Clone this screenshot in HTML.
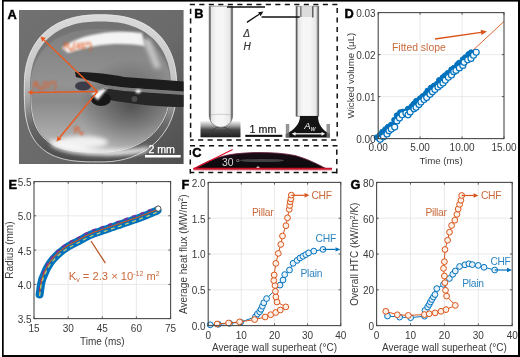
<!DOCTYPE html><html><head><meta charset="utf-8"><style>html,body{margin:0;padding:0;background:#fff;width:520px;height:357px;overflow:hidden}svg{display:block}text{font-family:'Liberation Sans',Arial,sans-serif}</style></head><body>
<svg width="520" height="357" viewBox="0 0 520 357">
<defs><filter id="b1" x="-20%" y="-20%" width="140%" height="140%"><feGaussianBlur stdDeviation="1"/></filter><filter id="b2" x="-30%" y="-30%" width="160%" height="160%"><feGaussianBlur stdDeviation="2"/></filter><filter id="b4" x="-50%" y="-50%" width="200%" height="200%"><feGaussianBlur stdDeviation="4"/></filter><filter id="b06"><feGaussianBlur stdDeviation="0.6"/></filter></defs>
<rect width="520" height="357" fill="#fff"/>
<clipPath id="cpa"><rect x="19" y="10" width="164.6" height="154"/></clipPath>
<linearGradient id="abg" x1="0" y1="0" x2="1" y2="1"><stop offset="0" stop-color="#717171"/><stop offset="0.55" stop-color="#6a6a6a"/><stop offset="1" stop-color="#4e4e4e"/></linearGradient>
<linearGradient id="arim" x1="0" y1="0" x2="0" y2="1"><stop offset="0" stop-color="#dadada"/><stop offset="0.42" stop-color="#c6c6c6"/><stop offset="0.6" stop-color="#9c9c9c"/><stop offset="0.75" stop-color="#686868"/><stop offset="1" stop-color="#4a4a4a"/></linearGradient><linearGradient id="aband" x1="0" y1="0" x2="0" y2="1"><stop offset="0" stop-color="#727272"/><stop offset="0.4" stop-color="#7c7c7c"/><stop offset="0.75" stop-color="#626262"/><stop offset="1" stop-color="#585858"/></linearGradient>
<linearGradient id="ain" x1="0" y1="0" x2="0" y2="1"><stop offset="0" stop-color="#7e7e7e"/><stop offset="0.25" stop-color="#8a8a8a"/><stop offset="0.45" stop-color="#939393"/><stop offset="0.58" stop-color="#888"/><stop offset="0.8" stop-color="#a4a4a4"/><stop offset="1" stop-color="#bcbcbc"/></linearGradient>
<linearGradient id="aline" x1="0" y1="0" x2="0" y2="1"><stop offset="0" stop-color="#e0e0e0" stop-opacity="0"/><stop offset="0.4" stop-color="#e0e0e0" stop-opacity="0.2"/><stop offset="0.7" stop-color="#e0e0e0" stop-opacity="0.9"/><stop offset="1" stop-color="#e0e0e0" stop-opacity="0.9"/></linearGradient>
<radialGradient id="ashade" cx="0.72" cy="0.62" r="0.38"><stop offset="0" stop-color="#3a3a3a" stop-opacity="0.7"/><stop offset="1" stop-color="#3a3a3a" stop-opacity="0"/></radialGradient>
<g clip-path="url(#cpa)">
<rect x="19" y="10" width="165" height="154" fill="url(#abg)"/>
<path d="M 177.0 88.0 L 176.9 91.9 L 176.8 95.3 L 176.5 98.6 L 176.1 101.7 L 175.7 104.8 L 175.1 107.8 L 174.4 110.7 L 173.6 113.5 L 172.7 116.3 L 171.7 119.0 L 170.6 121.6 L 169.4 124.2 L 168.1 126.7 L 166.7 129.1 L 165.2 131.5 L 163.6 133.8 L 161.9 136.0 L 160.1 138.1 L 158.3 140.2 L 156.3 142.2 L 154.3 144.1 L 152.2 145.9 L 150.0 147.6 L 147.7 149.2 L 145.3 150.8 L 142.9 152.2 L 140.4 153.6 L 137.8 154.8 L 135.2 156.0 L 132.4 157.1 L 129.7 158.1 L 126.8 158.9 L 123.9 159.7 L 120.9 160.4 L 117.8 160.9 L 114.7 161.4 L 111.4 161.8 L 108.1 162.0 L 104.5 162.2 L 100.5 162.2 L 91.7 162.2 L 86.5 162.1 L 82.1 161.9 L 78.3 161.6 L 74.8 161.3 L 71.5 160.9 L 68.4 160.4 L 65.5 159.8 L 62.8 159.1 L 60.2 158.4 L 57.7 157.6 L 55.3 156.7 L 53.0 155.8 L 50.9 154.8 L 48.8 153.6 L 46.8 152.5 L 44.9 151.2 L 43.1 149.8 L 41.4 148.4 L 39.8 146.9 L 38.2 145.3 L 36.8 143.7 L 35.4 141.9 L 34.1 140.1 L 32.9 138.2 L 31.7 136.2 L 30.6 134.1 L 29.7 131.9 L 28.8 129.5 L 27.9 127.1 L 27.2 124.6 L 26.5 121.9 L 25.9 119.1 L 25.4 116.1 L 25.0 113.0 L 24.6 109.6 L 24.4 105.8 L 24.2 101.6 L 24.0 96.6 L 24.0 88.0 L 24.1 83.3 L 24.2 79.6 L 24.5 76.1 L 24.8 72.8 L 25.3 69.7 L 25.8 66.7 L 26.5 63.8 L 27.2 60.9 L 28.0 58.2 L 29.0 55.5 L 30.0 53.0 L 31.2 50.5 L 32.4 48.0 L 33.7 45.7 L 35.1 43.4 L 36.6 41.2 L 38.2 39.1 L 39.9 37.1 L 41.7 35.1 L 43.5 33.3 L 45.5 31.5 L 47.5 29.8 L 49.6 28.2 L 51.8 26.6 L 54.1 25.2 L 56.5 23.8 L 58.9 22.6 L 61.4 21.4 L 64.0 20.3 L 66.7 19.3 L 69.5 18.4 L 72.3 17.6 L 75.3 16.9 L 78.3 16.2 L 81.5 15.7 L 84.7 15.3 L 88.1 14.9 L 91.7 14.7 L 95.6 14.5 L 100.5 14.5 L 105.4 14.5 L 109.3 14.7 L 112.9 14.9 L 116.3 15.3 L 119.5 15.7 L 122.7 16.2 L 125.7 16.9 L 128.7 17.6 L 131.5 18.4 L 134.3 19.3 L 137.0 20.3 L 139.6 21.4 L 142.1 22.6 L 144.5 23.8 L 146.9 25.2 L 149.2 26.6 L 151.4 28.2 L 153.5 29.8 L 155.5 31.5 L 157.5 33.3 L 159.3 35.1 L 161.1 37.1 L 162.8 39.1 L 164.4 41.2 L 165.9 43.4 L 167.3 45.7 L 168.6 48.0 L 169.8 50.5 L 171.0 53.0 L 172.0 55.5 L 173.0 58.2 L 173.8 60.9 L 174.5 63.8 L 175.2 66.7 L 175.7 69.7 L 176.2 72.8 L 176.5 76.1 L 176.8 79.6 L 176.9 83.3 Z" fill="url(#arim)"/>
<path d="M 171.0 88.5 L 171.0 92.1 L 170.8 95.2 L 170.6 98.2 L 170.2 101.0 L 169.8 103.8 L 169.2 106.5 L 168.6 109.2 L 167.9 111.8 L 167.0 114.3 L 166.1 116.8 L 165.1 119.2 L 164.0 121.5 L 162.8 123.8 L 161.5 126.0 L 160.1 128.2 L 158.6 130.2 L 157.1 132.3 L 155.5 134.2 L 153.7 136.1 L 151.9 137.9 L 150.1 139.6 L 148.1 141.3 L 146.1 142.8 L 144.0 144.3 L 141.8 145.7 L 139.6 147.0 L 137.3 148.3 L 134.9 149.4 L 132.4 150.5 L 129.9 151.5 L 127.4 152.4 L 124.7 153.2 L 122.0 153.9 L 119.3 154.5 L 116.5 155.0 L 113.6 155.4 L 110.6 155.7 L 107.5 156.0 L 104.2 156.1 L 100.5 156.2 L 92.4 156.1 L 87.6 156.0 L 83.6 155.9 L 80.0 155.6 L 76.8 155.3 L 73.8 154.9 L 70.9 154.5 L 68.3 153.9 L 65.7 153.4 L 63.3 152.7 L 61.0 152.0 L 58.9 151.2 L 56.8 150.3 L 54.8 149.3 L 52.9 148.3 L 51.0 147.3 L 49.3 146.1 L 47.6 144.9 L 46.0 143.6 L 44.5 142.2 L 43.1 140.8 L 41.8 139.2 L 40.5 137.7 L 39.3 136.0 L 38.2 134.2 L 37.1 132.4 L 36.1 130.5 L 35.2 128.5 L 34.4 126.4 L 33.6 124.2 L 32.9 121.9 L 32.3 119.4 L 31.8 116.9 L 31.3 114.2 L 30.9 111.3 L 30.6 108.1 L 30.3 104.7 L 30.1 100.9 L 30.0 96.3 L 30.0 88.5 L 30.0 84.2 L 30.2 80.8 L 30.4 77.7 L 30.7 74.7 L 31.2 71.8 L 31.7 69.1 L 32.3 66.4 L 32.9 63.8 L 33.7 61.3 L 34.6 58.9 L 35.6 56.6 L 36.6 54.3 L 37.7 52.1 L 38.9 49.9 L 40.2 47.9 L 41.6 45.9 L 43.1 44.0 L 44.7 42.1 L 46.3 40.3 L 48.0 38.6 L 49.8 37.0 L 51.7 35.4 L 53.6 34.0 L 55.6 32.6 L 57.7 31.2 L 59.9 30.0 L 62.2 28.8 L 64.5 27.8 L 66.9 26.8 L 69.4 25.9 L 71.9 25.0 L 74.6 24.3 L 77.3 23.6 L 80.1 23.1 L 83.0 22.6 L 86.0 22.2 L 89.1 21.9 L 92.4 21.7 L 96.0 21.5 L 100.5 21.5 L 105.0 21.5 L 108.6 21.7 L 111.9 21.9 L 115.0 22.2 L 118.0 22.6 L 120.9 23.1 L 123.7 23.6 L 126.4 24.3 L 129.1 25.0 L 131.6 25.9 L 134.1 26.8 L 136.5 27.8 L 138.8 28.8 L 141.1 30.0 L 143.3 31.2 L 145.4 32.6 L 147.4 34.0 L 149.3 35.4 L 151.2 37.0 L 153.0 38.6 L 154.7 40.3 L 156.3 42.1 L 157.9 44.0 L 159.4 45.9 L 160.8 47.9 L 162.1 49.9 L 163.3 52.1 L 164.4 54.3 L 165.4 56.6 L 166.4 58.9 L 167.3 61.3 L 168.1 63.8 L 168.7 66.4 L 169.3 69.1 L 169.8 71.8 L 170.3 74.7 L 170.6 77.7 L 170.8 80.8 L 171.0 84.2 Z" fill="url(#aband)"/>
<path d="M 169.5 90.0 L 169.5 93.2 L 169.3 96.1 L 169.1 98.8 L 168.7 101.4 L 168.3 103.9 L 167.8 106.4 L 167.1 108.8 L 166.4 111.2 L 165.6 113.5 L 164.7 115.7 L 163.7 117.9 L 162.6 120.1 L 161.5 122.1 L 160.2 124.1 L 158.8 126.1 L 157.4 128.0 L 155.9 129.8 L 154.3 131.6 L 152.6 133.3 L 150.9 135.0 L 149.0 136.5 L 147.1 138.0 L 145.1 139.5 L 143.1 140.8 L 140.9 142.1 L 138.7 143.3 L 136.5 144.4 L 134.2 145.5 L 131.8 146.4 L 129.3 147.3 L 126.8 148.1 L 124.2 148.9 L 121.6 149.5 L 118.9 150.1 L 116.1 150.5 L 113.3 150.9 L 110.4 151.2 L 107.3 151.4 L 104.1 151.6 L 100.5 151.6 L 92.5 151.6 L 87.9 151.5 L 83.9 151.3 L 80.5 151.1 L 77.3 150.8 L 74.3 150.5 L 71.6 150.1 L 69.0 149.6 L 66.5 149.0 L 64.1 148.4 L 61.9 147.8 L 59.7 147.0 L 57.7 146.3 L 55.7 145.4 L 53.9 144.5 L 52.1 143.5 L 50.4 142.4 L 48.8 141.3 L 47.2 140.1 L 45.7 138.9 L 44.3 137.6 L 43.0 136.2 L 41.8 134.8 L 40.6 133.2 L 39.5 131.6 L 38.5 130.0 L 37.5 128.2 L 36.6 126.4 L 35.8 124.5 L 35.0 122.5 L 34.4 120.4 L 33.8 118.2 L 33.2 115.8 L 32.8 113.4 L 32.4 110.7 L 32.1 107.9 L 31.8 104.8 L 31.6 101.3 L 31.5 97.1 L 31.5 90.0 L 31.5 86.1 L 31.7 83.0 L 31.9 80.1 L 32.2 77.4 L 32.6 74.8 L 33.1 72.3 L 33.7 69.9 L 34.4 67.5 L 35.1 65.3 L 36.0 63.1 L 36.9 60.9 L 38.0 58.9 L 39.1 56.8 L 40.3 54.9 L 41.5 53.0 L 42.9 51.2 L 44.3 49.4 L 45.8 47.8 L 47.4 46.1 L 49.1 44.6 L 50.9 43.1 L 52.7 41.7 L 54.6 40.3 L 56.6 39.1 L 58.7 37.9 L 60.8 36.7 L 63.0 35.7 L 65.3 34.7 L 67.6 33.8 L 70.0 33.0 L 72.5 32.2 L 75.1 31.6 L 77.8 31.0 L 80.5 30.4 L 83.3 30.0 L 86.3 29.6 L 89.3 29.4 L 92.6 29.2 L 96.1 29.0 L 100.5 29.0 L 104.9 29.0 L 108.4 29.2 L 111.7 29.4 L 114.7 29.6 L 117.7 30.0 L 120.5 30.4 L 123.2 31.0 L 125.9 31.6 L 128.5 32.2 L 131.0 33.0 L 133.4 33.8 L 135.7 34.7 L 138.0 35.7 L 140.2 36.7 L 142.3 37.9 L 144.4 39.1 L 146.4 40.3 L 148.3 41.7 L 150.1 43.1 L 151.9 44.6 L 153.6 46.1 L 155.2 47.8 L 156.7 49.4 L 158.1 51.2 L 159.5 53.0 L 160.7 54.9 L 161.9 56.8 L 163.0 58.9 L 164.1 60.9 L 165.0 63.1 L 165.9 65.3 L 166.6 67.5 L 167.3 69.9 L 167.9 72.3 L 168.4 74.8 L 168.8 77.4 L 169.1 80.1 L 169.3 83.0 L 169.5 86.1 Z" fill="url(#ain)"/>
<path d="M 169.5 90.0 L 169.5 93.2 L 169.3 96.1 L 169.1 98.8 L 168.7 101.4 L 168.3 103.9 L 167.8 106.4 L 167.1 108.8 L 166.4 111.2 L 165.6 113.5 L 164.7 115.7 L 163.7 117.9 L 162.6 120.1 L 161.5 122.1 L 160.2 124.1 L 158.8 126.1 L 157.4 128.0 L 155.9 129.8 L 154.3 131.6 L 152.6 133.3 L 150.9 135.0 L 149.0 136.5 L 147.1 138.0 L 145.1 139.5 L 143.1 140.8 L 140.9 142.1 L 138.7 143.3 L 136.5 144.4 L 134.2 145.5 L 131.8 146.4 L 129.3 147.3 L 126.8 148.1 L 124.2 148.9 L 121.6 149.5 L 118.9 150.1 L 116.1 150.5 L 113.3 150.9 L 110.4 151.2 L 107.3 151.4 L 104.1 151.6 L 100.5 151.6 L 92.5 151.6 L 87.9 151.5 L 83.9 151.3 L 80.5 151.1 L 77.3 150.8 L 74.3 150.5 L 71.6 150.1 L 69.0 149.6 L 66.5 149.0 L 64.1 148.4 L 61.9 147.8 L 59.7 147.0 L 57.7 146.3 L 55.7 145.4 L 53.9 144.5 L 52.1 143.5 L 50.4 142.4 L 48.8 141.3 L 47.2 140.1 L 45.7 138.9 L 44.3 137.6 L 43.0 136.2 L 41.8 134.8 L 40.6 133.2 L 39.5 131.6 L 38.5 130.0 L 37.5 128.2 L 36.6 126.4 L 35.8 124.5 L 35.0 122.5 L 34.4 120.4 L 33.8 118.2 L 33.2 115.8 L 32.8 113.4 L 32.4 110.7 L 32.1 107.9 L 31.8 104.8 L 31.6 101.3 L 31.5 97.1 L 31.5 90.0 L 31.5 86.1 L 31.7 83.0 L 31.9 80.1 L 32.2 77.4 L 32.6 74.8 L 33.1 72.3 L 33.7 69.9 L 34.4 67.5 L 35.1 65.3 L 36.0 63.1 L 36.9 60.9 L 38.0 58.9 L 39.1 56.8 L 40.3 54.9 L 41.5 53.0 L 42.9 51.2 L 44.3 49.4 L 45.8 47.8 L 47.4 46.1 L 49.1 44.6 L 50.9 43.1 L 52.7 41.7 L 54.6 40.3 L 56.6 39.1 L 58.7 37.9 L 60.8 36.7 L 63.0 35.7 L 65.3 34.7 L 67.6 33.8 L 70.0 33.0 L 72.5 32.2 L 75.1 31.6 L 77.8 31.0 L 80.5 30.4 L 83.3 30.0 L 86.3 29.6 L 89.3 29.4 L 92.6 29.2 L 96.1 29.0 L 100.5 29.0 L 104.9 29.0 L 108.4 29.2 L 111.7 29.4 L 114.7 29.6 L 117.7 30.0 L 120.5 30.4 L 123.2 31.0 L 125.9 31.6 L 128.5 32.2 L 131.0 33.0 L 133.4 33.8 L 135.7 34.7 L 138.0 35.7 L 140.2 36.7 L 142.3 37.9 L 144.4 39.1 L 146.4 40.3 L 148.3 41.7 L 150.1 43.1 L 151.9 44.6 L 153.6 46.1 L 155.2 47.8 L 156.7 49.4 L 158.1 51.2 L 159.5 53.0 L 160.7 54.9 L 161.9 56.8 L 163.0 58.9 L 164.1 60.9 L 165.0 63.1 L 165.9 65.3 L 166.6 67.5 L 167.3 69.9 L 167.9 72.3 L 168.4 74.8 L 168.8 77.4 L 169.1 80.1 L 169.3 83.0 L 169.5 86.1 Z" fill="url(#ashade)"/>
<path d="M 170.0 90.0 L 170.0 93.3 L 169.8 96.1 L 169.6 98.9 L 169.2 101.5 L 168.8 104.1 L 168.3 106.6 L 167.6 109.0 L 166.9 111.4 L 166.1 113.7 L 165.2 115.9 L 164.2 118.1 L 163.1 120.3 L 161.9 122.4 L 160.6 124.4 L 159.3 126.4 L 157.8 128.3 L 156.3 130.2 L 154.7 132.0 L 153.0 133.7 L 151.2 135.3 L 149.4 136.9 L 147.4 138.4 L 145.4 139.9 L 143.4 141.2 L 141.2 142.5 L 139.0 143.7 L 136.7 144.9 L 134.4 145.9 L 132.0 146.9 L 129.5 147.8 L 127.0 148.6 L 124.4 149.3 L 121.7 150.0 L 119.0 150.6 L 116.2 151.0 L 113.4 151.4 L 110.4 151.7 L 107.4 151.9 L 104.2 152.1 L 100.5 152.1 L 92.5 152.1 L 87.8 152.0 L 83.8 151.8 L 80.3 151.6 L 77.1 151.3 L 74.2 151.0 L 71.4 150.6 L 68.7 150.1 L 66.2 149.5 L 63.9 148.9 L 61.6 148.3 L 59.4 147.5 L 57.4 146.7 L 55.4 145.9 L 53.5 144.9 L 51.7 143.9 L 50.0 142.9 L 48.4 141.7 L 46.8 140.6 L 45.3 139.3 L 43.9 138.0 L 42.6 136.6 L 41.3 135.1 L 40.2 133.6 L 39.0 132.0 L 38.0 130.3 L 37.0 128.5 L 36.1 126.7 L 35.3 124.8 L 34.6 122.7 L 33.9 120.6 L 33.3 118.4 L 32.8 116.0 L 32.3 113.5 L 31.9 110.9 L 31.6 108.0 L 31.3 104.9 L 31.1 101.4 L 31.0 97.2 L 31.0 90.0 L 31.0 86.1 L 31.2 83.0 L 31.4 80.1 L 31.7 77.3 L 32.1 74.7 L 32.6 72.2 L 33.2 69.7 L 33.9 67.4 L 34.7 65.1 L 35.5 62.8 L 36.5 60.7 L 37.5 58.6 L 38.6 56.6 L 39.8 54.6 L 41.1 52.7 L 42.5 50.9 L 43.9 49.1 L 45.5 47.4 L 47.1 45.8 L 48.8 44.2 L 50.5 42.7 L 52.4 41.3 L 54.3 39.9 L 56.3 38.6 L 58.4 37.4 L 60.5 36.3 L 62.7 35.2 L 65.0 34.3 L 67.4 33.3 L 69.8 32.5 L 72.3 31.8 L 74.9 31.1 L 77.6 30.5 L 80.4 29.9 L 83.2 29.5 L 86.2 29.1 L 89.3 28.9 L 92.5 28.7 L 96.1 28.5 L 100.5 28.5 L 104.9 28.5 L 108.5 28.7 L 111.7 28.9 L 114.8 29.1 L 117.8 29.5 L 120.6 29.9 L 123.4 30.5 L 126.1 31.1 L 128.7 31.8 L 131.2 32.5 L 133.6 33.3 L 136.0 34.3 L 138.3 35.2 L 140.5 36.3 L 142.6 37.4 L 144.7 38.6 L 146.7 39.9 L 148.6 41.3 L 150.5 42.7 L 152.2 44.2 L 153.9 45.8 L 155.5 47.4 L 157.1 49.1 L 158.5 50.9 L 159.9 52.7 L 161.2 54.6 L 162.4 56.6 L 163.5 58.6 L 164.5 60.7 L 165.5 62.8 L 166.3 65.1 L 167.1 67.4 L 167.8 69.7 L 168.4 72.2 L 168.9 74.7 L 169.3 77.3 L 169.6 80.1 L 169.8 83.0 L 170.0 86.1 Z" fill="none" stroke="url(#aline)" stroke-width="1"/>
<path d="M 176.7 88.0 L 176.6 91.9 L 176.5 95.3 L 176.2 98.6 L 175.8 101.7 L 175.4 104.7 L 174.8 107.7 L 174.1 110.6 L 173.3 113.4 L 172.4 116.2 L 171.4 118.9 L 170.3 121.5 L 169.1 124.1 L 167.8 126.6 L 166.4 129.0 L 164.9 131.3 L 163.3 133.6 L 161.7 135.8 L 159.9 137.9 L 158.0 140.0 L 156.1 142.0 L 154.1 143.8 L 152.0 145.6 L 149.8 147.3 L 147.5 149.0 L 145.2 150.5 L 142.7 152.0 L 140.2 153.3 L 137.7 154.6 L 135.0 155.7 L 132.3 156.8 L 129.5 157.8 L 126.7 158.6 L 123.8 159.4 L 120.8 160.1 L 117.7 160.6 L 114.6 161.1 L 111.4 161.5 L 108.0 161.7 L 104.5 161.9 L 100.5 161.9 L 91.7 161.9 L 86.5 161.8 L 82.2 161.6 L 78.4 161.3 L 74.9 161.0 L 71.6 160.6 L 68.6 160.1 L 65.7 159.5 L 62.9 158.9 L 60.3 158.1 L 57.9 157.3 L 55.5 156.5 L 53.2 155.5 L 51.1 154.5 L 49.0 153.4 L 47.0 152.2 L 45.1 150.9 L 43.4 149.6 L 41.6 148.2 L 40.0 146.7 L 38.5 145.1 L 37.0 143.4 L 35.6 141.7 L 34.3 139.9 L 33.1 138.0 L 32.0 136.0 L 30.9 133.9 L 29.9 131.7 L 29.0 129.4 L 28.2 127.0 L 27.5 124.4 L 26.8 121.8 L 26.2 119.0 L 25.7 116.0 L 25.3 112.9 L 24.9 109.5 L 24.7 105.7 L 24.5 101.5 L 24.3 96.5 L 24.3 88.0 L 24.4 83.3 L 24.5 79.6 L 24.7 76.2 L 25.1 72.9 L 25.5 69.8 L 26.1 66.8 L 26.7 63.9 L 27.5 61.1 L 28.3 58.3 L 29.3 55.7 L 30.3 53.1 L 31.4 50.6 L 32.7 48.2 L 34.0 45.9 L 35.4 43.6 L 36.9 41.4 L 38.5 39.3 L 40.1 37.3 L 41.9 35.4 L 43.8 33.5 L 45.7 31.7 L 47.7 30.0 L 49.8 28.4 L 52.0 26.9 L 54.3 25.4 L 56.6 24.1 L 59.1 22.8 L 61.6 21.6 L 64.2 20.6 L 66.9 19.6 L 69.6 18.7 L 72.5 17.9 L 75.4 17.1 L 78.4 16.5 L 81.5 16.0 L 84.8 15.6 L 88.2 15.2 L 91.8 15.0 L 95.7 14.8 L 100.5 14.8 L 105.3 14.8 L 109.2 15.0 L 112.8 15.2 L 116.2 15.6 L 119.5 16.0 L 122.6 16.5 L 125.6 17.1 L 128.5 17.9 L 131.4 18.7 L 134.1 19.6 L 136.8 20.6 L 139.4 21.6 L 141.9 22.8 L 144.4 24.1 L 146.7 25.4 L 149.0 26.9 L 151.2 28.4 L 153.3 30.0 L 155.3 31.7 L 157.2 33.5 L 159.1 35.4 L 160.9 37.3 L 162.5 39.3 L 164.1 41.4 L 165.6 43.6 L 167.0 45.9 L 168.3 48.2 L 169.6 50.6 L 170.7 53.1 L 171.7 55.7 L 172.7 58.3 L 173.5 61.1 L 174.3 63.9 L 174.9 66.8 L 175.5 69.8 L 175.9 72.9 L 176.3 76.2 L 176.5 79.6 L 176.6 83.3 Z" fill="none" stroke="#e4e4e4" stroke-width="1" opacity="0.85"/>
<g filter="url(#b1)">
<path d="M 62 48 C 78 35, 110 29, 142 33 L 145 46 C 125 43, 100 42, 68 53 Z" fill="#fafafa" opacity="0.95"/>
</g>
<g filter="url(#b2)">
<path d="M 142 39 L 150 39 L 161 67 L 155 69 Z" fill="#d0d0d0" opacity="0.85"/>
<path d="M 50 138 C 70 150, 120 153, 150 146 L 146 152 C 120 158, 70 157, 52 146 Z" fill="#f6f6f6" opacity="0.95"/>
<ellipse cx="82" cy="142" rx="26" ry="6" fill="#ffffff" opacity="0.8"/>
</g>
<g filter="url(#b06)">
<path d="M 75 72 C 90 72, 110 74, 124 76.9 L 184 81.5 L 184 92 L 124 87.5 L 105 85 C 95 82, 85 79, 76 77 Z" fill="#1e1e1e"/>
<path d="M 104 88 L 124 90.5 L 184 94.5 L 184 107 C 165 107, 140 105, 122 102 C 112 101, 106 99, 103 95 Z" fill="#262626"/>
<path d="M 108 85.5 L 124 87.5 L 184 91.5 L 184 95 L 124 91 L 106 88.5 Z" fill="#787878"/>
<ellipse cx="83" cy="86" rx="8" ry="4.5" fill="#2e2e3c" opacity="0.85"/>
<ellipse cx="101" cy="99" rx="10" ry="7" fill="#181818"/>
<ellipse cx="134.5" cy="99" rx="3" ry="3" fill="#555" opacity="0.8"/>
</g>
<g filter="url(#b1)">
<polygon points="91.4,93.4 107.8,87.7 97.7,100.3" fill="#fff"/>
<ellipse cx="138.2" cy="91.4" rx="2.6" ry="1.9" fill="#fff"/>
</g>
</g>
<line x1="97.5" y1="91.5" x2="44.0" y2="40.0" stroke="#E85A22" stroke-width="1.5"/>
<polygon points="40.4,36.5 45.8,38.1 42.2,41.8" fill="#E85A22"/>
<line x1="97.5" y1="91.5" x2="32.6" y2="92.4" stroke="#E85A22" stroke-width="1.5"/>
<polygon points="27.6,92.5 32.6,89.8 32.6,95.0" fill="#E85A22"/>
<line x1="97.5" y1="91.5" x2="59.7" y2="137.5" stroke="#E85A22" stroke-width="1.5"/>
<polygon points="56.5,141.4 57.7,135.9 61.7,139.2" fill="#E85A22"/>
<g opacity="0.9" filter="url(#b1)"><text x="63.5" y="49.2" font-size="8.8" fill="#E85A22" stroke="#E85A22" stroke-width="0.3">R<tspan font-size="6" dy="1.5">s</tspan><tspan dy="-1.5">(45°)</tspan></text>
<text x="33" y="88" font-size="8.8" fill="#E85A22" stroke="#E85A22" stroke-width="0.3">R<tspan font-size="6" dy="1.5">s</tspan><tspan dy="-1.5">(0°)</tspan></text>
<text x="74" y="133" font-size="8.8" fill="#E85A22" stroke="#E85A22" stroke-width="0.3">R<tspan font-size="6" dy="1.5">s</tspan></text></g>
<text x="148.4" y="153.3" font-size="10.6" fill="#fff" stroke="#fff" stroke-width="0.25">2 mm</text>
<rect x="145" y="155" width="35.7" height="2.5" fill="#fff"/>
<line x1="420.1" y1="12.6" x2="420.1" y2="138.6" stroke="#e4e4e4" stroke-width="0.8"/>
<line x1="462.1" y1="12.6" x2="462.1" y2="138.6" stroke="#e4e4e4" stroke-width="0.8"/>
<line x1="378.2" y1="96.6" x2="504" y2="96.6" stroke="#e4e4e4" stroke-width="0.8"/>
<line x1="378.2" y1="54.6" x2="504" y2="54.6" stroke="#e4e4e4" stroke-width="0.8"/>
<line x1="378.2" y1="138.6" x2="504" y2="21.4" stroke="#D95319" stroke-width="0.9"/>
<circle cx="376.8" cy="137.4" r="2.7" fill="#0072BD" stroke="#0072BD" stroke-width="1.0"/>
<circle cx="380.1" cy="134.8" r="2.7" fill="#0072BD" stroke="#0072BD" stroke-width="1.0"/>
<circle cx="382.3" cy="132.0" r="2.7" fill="#0072BD" stroke="#0072BD" stroke-width="1.0"/>
<circle cx="385.3" cy="129.4" r="2.7" fill="#0072BD" stroke="#0072BD" stroke-width="1.0"/>
<circle cx="388.0" cy="127.0" r="2.7" fill="#0072BD" stroke="#0072BD" stroke-width="1.0"/>
<circle cx="391.2" cy="124.8" r="2.7" fill="#0072BD" stroke="#0072BD" stroke-width="1.0"/>
<circle cx="394.4" cy="119.9" r="2.7" fill="#0072BD" stroke="#0072BD" stroke-width="1.0"/>
<circle cx="396.9" cy="115.5" r="2.7" fill="#0072BD" stroke="#0072BD" stroke-width="1.0"/>
<circle cx="400.2" cy="112.4" r="2.7" fill="#0072BD" stroke="#0072BD" stroke-width="1.0"/>
<circle cx="403.0" cy="111.8" r="2.7" fill="#0072BD" stroke="#0072BD" stroke-width="1.0"/>
<circle cx="404.9" cy="112.0" r="2.7" fill="#0072BD" stroke="#0072BD" stroke-width="1.0"/>
<circle cx="408.0" cy="108.9" r="2.7" fill="#0072BD" stroke="#0072BD" stroke-width="1.0"/>
<circle cx="411.5" cy="106.6" r="2.7" fill="#0072BD" stroke="#0072BD" stroke-width="1.0"/>
<circle cx="413.6" cy="104.0" r="2.7" fill="#0072BD" stroke="#0072BD" stroke-width="1.0"/>
<circle cx="416.3" cy="101.0" r="2.7" fill="#0072BD" stroke="#0072BD" stroke-width="1.0"/>
<circle cx="420.1" cy="98.5" r="2.7" fill="#0072BD" stroke="#0072BD" stroke-width="1.0"/>
<circle cx="422.7" cy="96.3" r="2.7" fill="#0072BD" stroke="#0072BD" stroke-width="1.0"/>
<circle cx="425.8" cy="93.8" r="2.7" fill="#0072BD" stroke="#0072BD" stroke-width="1.0"/>
<circle cx="427.6" cy="90.8" r="2.7" fill="#0072BD" stroke="#0072BD" stroke-width="1.0"/>
<circle cx="431.0" cy="87.8" r="2.7" fill="#0072BD" stroke="#0072BD" stroke-width="1.0"/>
<circle cx="434.0" cy="85.8" r="2.7" fill="#0072BD" stroke="#0072BD" stroke-width="1.0"/>
<circle cx="437.2" cy="83.7" r="2.7" fill="#0072BD" stroke="#0072BD" stroke-width="1.0"/>
<circle cx="439.2" cy="80.2" r="2.7" fill="#0072BD" stroke="#0072BD" stroke-width="1.0"/>
<circle cx="442.7" cy="77.5" r="2.7" fill="#0072BD" stroke="#0072BD" stroke-width="1.0"/>
<circle cx="445.0" cy="75.5" r="2.7" fill="#0072BD" stroke="#0072BD" stroke-width="1.0"/>
<circle cx="447.8" cy="73.1" r="2.7" fill="#0072BD" stroke="#0072BD" stroke-width="1.0"/>
<circle cx="451.4" cy="69.6" r="2.7" fill="#0072BD" stroke="#0072BD" stroke-width="1.0"/>
<circle cx="453.9" cy="68.0" r="2.7" fill="#0072BD" stroke="#0072BD" stroke-width="1.0"/>
<circle cx="457.3" cy="64.8" r="2.7" fill="#0072BD" stroke="#0072BD" stroke-width="1.0"/>
<circle cx="459.1" cy="62.9" r="2.7" fill="#0072BD" stroke="#0072BD" stroke-width="1.0"/>
<circle cx="462.9" cy="59.5" r="2.7" fill="#0072BD" stroke="#0072BD" stroke-width="1.0"/>
<circle cx="465.2" cy="57.5" r="2.7" fill="#0072BD" stroke="#0072BD" stroke-width="1.0"/>
<circle cx="468.5" cy="54.3" r="2.7" fill="#0072BD" stroke="#0072BD" stroke-width="1.0"/>
<circle cx="471.1" cy="52.5" r="2.7" fill="#0072BD" stroke="#0072BD" stroke-width="1.0"/>
<circle cx="380.2" cy="139.3" r="3.0" fill="#f4f8fc" stroke="#0072BD" stroke-width="1.15"/>
<circle cx="383.5" cy="136.8" r="3.0" fill="#f4f8fc" stroke="#0072BD" stroke-width="1.15"/>
<circle cx="387.0" cy="134.0" r="3.0" fill="#f4f8fc" stroke="#0072BD" stroke-width="1.15"/>
<circle cx="389.0" cy="130.8" r="3.0" fill="#f4f8fc" stroke="#0072BD" stroke-width="1.15"/>
<circle cx="391.3" cy="129.0" r="3.0" fill="#f4f8fc" stroke="#0072BD" stroke-width="1.15"/>
<circle cx="394.7" cy="127.1" r="3.0" fill="#f4f8fc" stroke="#0072BD" stroke-width="1.15"/>
<circle cx="396.9" cy="120.9" r="3.0" fill="#f4f8fc" stroke="#0072BD" stroke-width="1.15"/>
<circle cx="399.5" cy="118.0" r="3.0" fill="#f4f8fc" stroke="#0072BD" stroke-width="1.15"/>
<circle cx="402.1" cy="114.7" r="3.0" fill="#f4f8fc" stroke="#0072BD" stroke-width="1.15"/>
<circle cx="405.9" cy="113.1" r="3.0" fill="#f4f8fc" stroke="#0072BD" stroke-width="1.15"/>
<circle cx="408.1" cy="114.8" r="3.0" fill="#f4f8fc" stroke="#0072BD" stroke-width="1.15"/>
<circle cx="410.2" cy="111.9" r="3.0" fill="#f4f8fc" stroke="#0072BD" stroke-width="1.15"/>
<circle cx="414.0" cy="108.8" r="3.0" fill="#f4f8fc" stroke="#0072BD" stroke-width="1.15"/>
<circle cx="416.1" cy="107.3" r="3.0" fill="#f4f8fc" stroke="#0072BD" stroke-width="1.15"/>
<circle cx="419.0" cy="104.4" r="3.0" fill="#f4f8fc" stroke="#0072BD" stroke-width="1.15"/>
<circle cx="421.0" cy="102.0" r="3.0" fill="#f4f8fc" stroke="#0072BD" stroke-width="1.15"/>
<circle cx="424.0" cy="99.5" r="3.0" fill="#f4f8fc" stroke="#0072BD" stroke-width="1.15"/>
<circle cx="426.7" cy="97.6" r="3.0" fill="#f4f8fc" stroke="#0072BD" stroke-width="1.15"/>
<circle cx="430.0" cy="94.3" r="3.0" fill="#f4f8fc" stroke="#0072BD" stroke-width="1.15"/>
<circle cx="432.4" cy="91.8" r="3.0" fill="#f4f8fc" stroke="#0072BD" stroke-width="1.15"/>
<circle cx="434.9" cy="89.5" r="3.0" fill="#f4f8fc" stroke="#0072BD" stroke-width="1.15"/>
<circle cx="438.0" cy="87.0" r="3.0" fill="#f4f8fc" stroke="#0072BD" stroke-width="1.15"/>
<circle cx="440.4" cy="85.1" r="3.0" fill="#f4f8fc" stroke="#0072BD" stroke-width="1.15"/>
<circle cx="443.0" cy="83.0" r="3.0" fill="#f4f8fc" stroke="#0072BD" stroke-width="1.15"/>
<circle cx="445.3" cy="80.2" r="3.0" fill="#f4f8fc" stroke="#0072BD" stroke-width="1.15"/>
<circle cx="448.4" cy="77.3" r="3.0" fill="#f4f8fc" stroke="#0072BD" stroke-width="1.15"/>
<circle cx="451.5" cy="75.0" r="3.0" fill="#f4f8fc" stroke="#0072BD" stroke-width="1.15"/>
<circle cx="453.8" cy="71.7" r="3.0" fill="#f4f8fc" stroke="#0072BD" stroke-width="1.15"/>
<circle cx="456.0" cy="70.4" r="3.0" fill="#f4f8fc" stroke="#0072BD" stroke-width="1.15"/>
<circle cx="459.4" cy="67.9" r="3.0" fill="#f4f8fc" stroke="#0072BD" stroke-width="1.15"/>
<circle cx="462.8" cy="65.4" r="3.0" fill="#f4f8fc" stroke="#0072BD" stroke-width="1.15"/>
<circle cx="464.1" cy="62.3" r="3.0" fill="#f4f8fc" stroke="#0072BD" stroke-width="1.15"/>
<circle cx="467.7" cy="59.8" r="3.0" fill="#f4f8fc" stroke="#0072BD" stroke-width="1.15"/>
<circle cx="471.0" cy="58.4" r="3.0" fill="#f4f8fc" stroke="#0072BD" stroke-width="1.15"/>
<circle cx="473.5" cy="55.2" r="3.0" fill="#f4f8fc" stroke="#0072BD" stroke-width="1.15"/>
<circle cx="476.2" cy="52.2" r="3.0" fill="#f4f8fc" stroke="#0072BD" stroke-width="1.15"/>
<rect x="378.2" y="12.6" width="125.80000000000001" height="126.0" fill="none" stroke="#4a4a4a" stroke-width="1.1"/>
<line x1="378.2" y1="138.6" x2="378.2" y2="136.4" stroke="#4a4a4a" stroke-width="0.9"/>
<line x1="378.2" y1="12.6" x2="378.2" y2="14.8" stroke="#4a4a4a" stroke-width="0.9"/>
<line x1="420.1" y1="138.6" x2="420.1" y2="136.4" stroke="#4a4a4a" stroke-width="0.9"/>
<line x1="420.1" y1="12.6" x2="420.1" y2="14.8" stroke="#4a4a4a" stroke-width="0.9"/>
<line x1="462.1" y1="138.6" x2="462.1" y2="136.4" stroke="#4a4a4a" stroke-width="0.9"/>
<line x1="462.1" y1="12.6" x2="462.1" y2="14.8" stroke="#4a4a4a" stroke-width="0.9"/>
<line x1="504.0" y1="138.6" x2="504.0" y2="136.4" stroke="#4a4a4a" stroke-width="0.9"/>
<line x1="504.0" y1="12.6" x2="504.0" y2="14.8" stroke="#4a4a4a" stroke-width="0.9"/>
<line x1="378.2" y1="138.6" x2="380.4" y2="138.6" stroke="#4a4a4a" stroke-width="0.9"/>
<line x1="504" y1="138.6" x2="501.8" y2="138.6" stroke="#4a4a4a" stroke-width="0.9"/>
<line x1="378.2" y1="96.6" x2="380.4" y2="96.6" stroke="#4a4a4a" stroke-width="0.9"/>
<line x1="504" y1="96.6" x2="501.8" y2="96.6" stroke="#4a4a4a" stroke-width="0.9"/>
<line x1="378.2" y1="54.6" x2="380.4" y2="54.6" stroke="#4a4a4a" stroke-width="0.9"/>
<line x1="504" y1="54.6" x2="501.8" y2="54.6" stroke="#4a4a4a" stroke-width="0.9"/>
<line x1="378.2" y1="12.6" x2="380.4" y2="12.6" stroke="#4a4a4a" stroke-width="0.9"/>
<line x1="504" y1="12.6" x2="501.8" y2="12.6" stroke="#4a4a4a" stroke-width="0.9"/>
<text x="378.2" y="151.1" text-anchor="middle" font-size="10" fill="#3a3a3a">0.00</text>
<text x="420.1" y="151.1" text-anchor="middle" font-size="10" fill="#3a3a3a">5.00</text>
<text x="462.1" y="151.1" text-anchor="middle" font-size="10" fill="#3a3a3a">10.00</text>
<text x="504.0" y="151.1" text-anchor="middle" font-size="10" fill="#3a3a3a">15.00</text>
<text x="375.59999999999997" y="143.0" text-anchor="end" font-size="10" fill="#3a3a3a">0.00</text>
<text x="375.59999999999997" y="101.0" text-anchor="end" font-size="10" fill="#3a3a3a">0.01</text>
<text x="375.59999999999997" y="59.0" text-anchor="end" font-size="10" fill="#3a3a3a">0.02</text>
<text x="375.59999999999997" y="17.0" text-anchor="end" font-size="10" fill="#3a3a3a">0.03</text>
<text x="441.1" y="163.8" text-anchor="middle" font-size="9.7" fill="#3a3a3a">Time (ms)</text>
<text transform="translate(353.6,75.6) rotate(-90)" text-anchor="middle" font-size="9.7" fill="#3a3a3a">Wicked volume (µL)</text>
<text x="392" y="51.3" font-size="10.4" fill="#C96A3C">Fitted slope</text>
<line x1="435.0" y1="39.0" x2="481.1" y2="32.4" stroke="#D95319" stroke-width="1.3"/>
<polygon points="487.0,31.5 481.4,34.9 480.7,29.8" fill="#D95319"/>
<text x="344.6" y="17.6" font-size="12.8" font-weight="bold" fill="#000" stroke="#000" stroke-width="0.45">D</text>
<line x1="68.2" y1="181.6" x2="68.2" y2="318.6" stroke="#e4e4e4" stroke-width="0.8"/>
<line x1="102.3" y1="181.6" x2="102.3" y2="318.6" stroke="#e4e4e4" stroke-width="0.8"/>
<line x1="136.4" y1="181.6" x2="136.4" y2="318.6" stroke="#e4e4e4" stroke-width="0.8"/>
<line x1="34" y1="284.4" x2="170.6" y2="284.4" stroke="#e4e4e4" stroke-width="0.8"/>
<line x1="34" y1="250.1" x2="170.6" y2="250.1" stroke="#e4e4e4" stroke-width="0.8"/>
<line x1="34" y1="215.8" x2="170.6" y2="215.8" stroke="#e4e4e4" stroke-width="0.8"/>
<polyline points="39.6,294.5 40.9,284.9 42.2,279.3 43.6,275.9 44.9,272.9 46.2,269.9 47.5,267.3 48.9,265.0 50.2,263.0 51.5,261.2 52.8,259.6 54.2,258.1 55.5,256.7 56.8,255.4 58.1,254.1 59.5,252.9 60.8,251.8 62.1,250.8 63.4,249.7 64.8,248.8 66.1,247.9 67.4,247.0 68.7,246.2 70.1,245.5 71.4,244.7 72.7,244.0 74.0,243.4 75.4,242.7 76.7,242.0 78.0,241.4 79.3,240.7 80.7,239.9 82.0,239.2 83.3,238.5 84.6,237.7 86.0,237.0 87.3,236.4 88.6,235.7 89.9,235.1 91.3,234.6 92.6,234.0 93.9,233.5 95.2,233.0 96.6,232.6 97.9,232.1 99.2,231.7 100.5,231.2 101.9,230.8 103.2,230.3 104.5,229.9 105.8,229.4 107.2,229.0 108.5,228.5 109.8,228.1 111.1,227.6 112.5,227.1 113.8,226.7 115.1,226.2 116.4,225.8 117.8,225.3 119.1,224.9 120.4,224.4 121.7,223.9 123.1,223.5 124.4,223.0 125.7,222.6 127.0,222.1 128.4,221.7 129.7,221.2 131.0,220.8 132.3,220.3 133.7,219.8 135.0,219.4 136.3,218.9 137.6,218.4 139.0,217.9 140.3,217.4 141.6,216.9 142.9,216.4 144.3,215.9 145.6,215.4 146.9,214.9 148.2,214.3 149.6,213.8 150.9,213.2 152.2,212.7 153.5,212.1 154.9,211.6 156.2,211.0 157.5,210.4" fill="none" stroke="#0072BD" stroke-width="8" stroke-linecap="round" stroke-linejoin="round"/>
<polyline points="39.6,290.9 40.9,281.3 42.2,275.7 43.6,272.3 44.9,269.3 46.2,266.3 47.5,263.7 48.9,261.4 50.2,259.4 51.5,257.6 52.8,256.0 54.2,254.5 55.5,253.1 56.8,251.8 58.1,250.5 59.5,249.3 60.8,248.2 62.1,247.2 63.4,246.1 64.8,245.2 66.1,244.3 67.4,243.4 68.7,242.6 70.1,241.9 71.4,241.1 72.7,240.4 74.0,239.8 75.4,239.1 76.7,238.4 78.0,237.8 79.3,237.1 80.7,236.3 82.0,235.6 83.3,234.9 84.6,234.1 86.0,233.4 87.3,232.8 88.6,232.1 89.9,231.5 91.3,231.0 92.6,230.4 93.9,229.9 95.2,229.4 96.6,229.0 97.9,228.5 99.2,228.1 100.5,227.6 101.9,227.2 103.2,226.7 104.5,226.3 105.8,225.8 107.2,225.4 108.5,224.9 109.8,224.5 111.1,224.0 112.5,223.5 113.8,223.1 115.1,222.6 116.4,222.2 117.8,221.7 119.1,221.3 120.4,220.8 121.7,220.3 123.1,219.9 124.4,219.4 125.7,219.0 127.0,218.5 128.4,218.1 129.7,217.6 131.0,217.2 132.3,216.7 133.7,216.2 135.0,215.8 136.3,215.3 137.6,214.8 139.0,214.3 140.3,213.8 141.6,213.3 142.9,212.8 144.3,212.3 145.6,211.8 146.9,211.3 148.2,210.7 149.6,210.2 150.9,209.6 152.2,209.1 153.5,208.5 154.9,208.0 156.2,207.4 157.5,206.8" fill="none" stroke="#6a35a0" stroke-width="1.9" stroke-dasharray="4 4.5"/>
<polyline points="39.6,293.3 40.9,283.7 42.2,278.1 43.6,274.7 44.9,271.7 46.2,268.7 47.5,266.1 48.9,263.8 50.2,261.8 51.5,260.0 52.8,258.4 54.2,256.9 55.5,255.5 56.8,254.2 58.1,252.9 59.5,251.7 60.8,250.6 62.1,249.6 63.4,248.5 64.8,247.6 66.1,246.7 67.4,245.8 68.7,245.0 70.1,244.3 71.4,243.5 72.7,242.8 74.0,242.2 75.4,241.5 76.7,240.8 78.0,240.2 79.3,239.5 80.7,238.7 82.0,238.0 83.3,237.3 84.6,236.5 86.0,235.8 87.3,235.2 88.6,234.5 89.9,233.9 91.3,233.4 92.6,232.8 93.9,232.3 95.2,231.8 96.6,231.4 97.9,230.9 99.2,230.5 100.5,230.0 101.9,229.6 103.2,229.1 104.5,228.7 105.8,228.2 107.2,227.8 108.5,227.3 109.8,226.9 111.1,226.4 112.5,225.9 113.8,225.5 115.1,225.0 116.4,224.6 117.8,224.1 119.1,223.7 120.4,223.2 121.7,222.7 123.1,222.3 124.4,221.8 125.7,221.4 127.0,220.9 128.4,220.5 129.7,220.0 131.0,219.6 132.3,219.1 133.7,218.6 135.0,218.2 136.3,217.7 137.6,217.2 139.0,216.7 140.3,216.2 141.6,215.7 142.9,215.2 144.3,214.7 145.6,214.2 146.9,213.7 148.2,213.1 149.6,212.6 150.9,212.0 152.2,211.5 153.5,210.9 154.9,210.4 156.2,209.8 157.5,209.2" fill="none" stroke="#D95319" stroke-width="1.1"/>
<polyline points="39.6,296.0 40.9,286.4 42.2,280.8 43.6,277.4 44.9,274.4 46.2,271.4 47.5,268.8 48.9,266.5 50.2,264.5 51.5,262.7 52.8,261.1 54.2,259.6 55.5,258.2 56.8,256.9 58.1,255.6 59.5,254.4 60.8,253.3 62.1,252.3 63.4,251.2 64.8,250.3 66.1,249.4 67.4,248.5 68.7,247.7 70.1,247.0 71.4,246.2 72.7,245.5 74.0,244.9 75.4,244.2 76.7,243.5 78.0,242.9 79.3,242.2 80.7,241.4 82.0,240.7 83.3,240.0 84.6,239.2 86.0,238.5 87.3,237.9 88.6,237.2 89.9,236.6 91.3,236.1 92.6,235.5 93.9,235.0 95.2,234.5 96.6,234.1 97.9,233.6 99.2,233.2 100.5,232.7 101.9,232.3 103.2,231.8 104.5,231.4 105.8,230.9 107.2,230.5 108.5,230.0 109.8,229.6 111.1,229.1 112.5,228.6 113.8,228.2 115.1,227.7 116.4,227.3 117.8,226.8 119.1,226.4 120.4,225.9 121.7,225.4 123.1,225.0 124.4,224.5 125.7,224.1 127.0,223.6 128.4,223.2 129.7,222.7 131.0,222.3 132.3,221.8 133.7,221.3 135.0,220.9 136.3,220.4 137.6,219.9 139.0,219.4 140.3,218.9 141.6,218.4 142.9,217.9 144.3,217.4 145.6,216.9 146.9,216.4 148.2,215.8 149.6,215.3 150.9,214.7 152.2,214.2 153.5,213.6 154.9,213.1 156.2,212.5 157.5,211.9" fill="none" stroke="#c2cc72" stroke-width="1.3" stroke-dasharray="4 3.5"/>
<circle cx="158.2" cy="208.6" r="2.7" fill="#fff" stroke="#555" stroke-width="1"/>
<line x1="91" y1="241" x2="105.4" y2="263.2" stroke="#B9582C" stroke-width="1.3"/>
<rect x="34" y="181.6" width="136.6" height="137.00000000000003" fill="none" stroke="#4a4a4a" stroke-width="1.1"/>
<line x1="34.0" y1="318.6" x2="34.0" y2="316.40000000000003" stroke="#4a4a4a" stroke-width="0.9"/>
<line x1="34.0" y1="181.6" x2="34.0" y2="183.79999999999998" stroke="#4a4a4a" stroke-width="0.9"/>
<line x1="68.2" y1="318.6" x2="68.2" y2="316.40000000000003" stroke="#4a4a4a" stroke-width="0.9"/>
<line x1="68.2" y1="181.6" x2="68.2" y2="183.79999999999998" stroke="#4a4a4a" stroke-width="0.9"/>
<line x1="102.3" y1="318.6" x2="102.3" y2="316.40000000000003" stroke="#4a4a4a" stroke-width="0.9"/>
<line x1="102.3" y1="181.6" x2="102.3" y2="183.79999999999998" stroke="#4a4a4a" stroke-width="0.9"/>
<line x1="136.4" y1="318.6" x2="136.4" y2="316.40000000000003" stroke="#4a4a4a" stroke-width="0.9"/>
<line x1="136.4" y1="181.6" x2="136.4" y2="183.79999999999998" stroke="#4a4a4a" stroke-width="0.9"/>
<line x1="170.6" y1="318.6" x2="170.6" y2="316.40000000000003" stroke="#4a4a4a" stroke-width="0.9"/>
<line x1="170.6" y1="181.6" x2="170.6" y2="183.79999999999998" stroke="#4a4a4a" stroke-width="0.9"/>
<line x1="34" y1="318.6" x2="36.2" y2="318.6" stroke="#4a4a4a" stroke-width="0.9"/>
<line x1="170.6" y1="318.6" x2="168.4" y2="318.6" stroke="#4a4a4a" stroke-width="0.9"/>
<line x1="34" y1="284.4" x2="36.2" y2="284.4" stroke="#4a4a4a" stroke-width="0.9"/>
<line x1="170.6" y1="284.4" x2="168.4" y2="284.4" stroke="#4a4a4a" stroke-width="0.9"/>
<line x1="34" y1="250.1" x2="36.2" y2="250.1" stroke="#4a4a4a" stroke-width="0.9"/>
<line x1="170.6" y1="250.1" x2="168.4" y2="250.1" stroke="#4a4a4a" stroke-width="0.9"/>
<line x1="34" y1="215.8" x2="36.2" y2="215.8" stroke="#4a4a4a" stroke-width="0.9"/>
<line x1="170.6" y1="215.8" x2="168.4" y2="215.8" stroke="#4a4a4a" stroke-width="0.9"/>
<line x1="34" y1="181.6" x2="36.2" y2="181.6" stroke="#4a4a4a" stroke-width="0.9"/>
<line x1="170.6" y1="181.6" x2="168.4" y2="181.6" stroke="#4a4a4a" stroke-width="0.9"/>
<text x="34.0" y="332.0" text-anchor="middle" font-size="10" fill="#3a3a3a">15</text>
<text x="68.2" y="332.0" text-anchor="middle" font-size="10" fill="#3a3a3a">30</text>
<text x="102.3" y="332.0" text-anchor="middle" font-size="10" fill="#3a3a3a">45</text>
<text x="136.4" y="332.0" text-anchor="middle" font-size="10" fill="#3a3a3a">60</text>
<text x="170.6" y="332.0" text-anchor="middle" font-size="10" fill="#3a3a3a">75</text>
<text x="31.6" y="323.0" text-anchor="end" font-size="10" fill="#3a3a3a">3.5</text>
<text x="31.6" y="288.79999999999995" text-anchor="end" font-size="10" fill="#3a3a3a">4.0</text>
<text x="31.6" y="254.5" text-anchor="end" font-size="10" fill="#3a3a3a">4.5</text>
<text x="31.6" y="220.20000000000002" text-anchor="end" font-size="10" fill="#3a3a3a">5.0</text>
<text x="31.6" y="186.0" text-anchor="end" font-size="10" fill="#3a3a3a">5.5</text>
<text x="102.3" y="344.6" text-anchor="middle" font-size="10" fill="#3a3a3a">Time (ms)</text>
<text transform="translate(13.2,250.1) rotate(-90)" text-anchor="middle" font-size="10" fill="#3a3a3a">Radius (mm)</text>
<text x="68.8" y="279.6" font-size="11.2" fill="#C96A3C">K<tspan font-size="7" dy="2">v</tspan><tspan dy="-2"> = 2.3 × 10</tspan><tspan font-size="7" dy="-4">-12</tspan><tspan dy="4"> m</tspan><tspan font-size="7" dy="-4">2</tspan></text>
<text x="8.4" y="188.8" font-size="12.8" font-weight="bold" fill="#000" stroke="#000" stroke-width="0.45">E</text>
<line x1="241.3" y1="182.4" x2="241.3" y2="325.6" stroke="#e4e4e4" stroke-width="0.8"/>
<line x1="274.5" y1="182.4" x2="274.5" y2="325.6" stroke="#e4e4e4" stroke-width="0.8"/>
<line x1="307.6" y1="182.4" x2="307.6" y2="325.6" stroke="#e4e4e4" stroke-width="0.8"/>
<line x1="208.2" y1="289.8" x2="340.8" y2="289.8" stroke="#e4e4e4" stroke-width="0.8"/>
<line x1="208.2" y1="254.0" x2="340.8" y2="254.0" stroke="#e4e4e4" stroke-width="0.8"/>
<line x1="208.2" y1="218.2" x2="340.8" y2="218.2" stroke="#e4e4e4" stroke-width="0.8"/>
<polyline points="210.2,324.8 218.3,324.3 229.6,323.3 240.6,322.2 255.4,316.8 257.4,314.0 259.6,311.8 261.0,309.3 262.4,306.2 263.8,302.8 266.6,298.6 280.0,285.1 283.0,280.0 284.7,274.6 289.5,270.0 293.1,263.3 297.1,260.4 300.0,258.0 302.9,256.3 305.8,254.6 308.6,252.9 313.8,251.1 323.0,249.4" fill="none" stroke="#0072BD" stroke-width="1.0"/>
<circle cx="210.2" cy="324.8" r="2.9" fill="#e6f1fa" stroke="#0072BD" stroke-width="1.0"/>
<circle cx="218.3" cy="324.3" r="2.9" fill="#e6f1fa" stroke="#0072BD" stroke-width="1.0"/>
<circle cx="229.6" cy="323.3" r="2.9" fill="#e6f1fa" stroke="#0072BD" stroke-width="1.0"/>
<circle cx="240.6" cy="322.2" r="2.9" fill="#e6f1fa" stroke="#0072BD" stroke-width="1.0"/>
<circle cx="255.4" cy="316.8" r="2.9" fill="#e6f1fa" stroke="#0072BD" stroke-width="1.0"/>
<circle cx="257.4" cy="314.0" r="2.9" fill="#e6f1fa" stroke="#0072BD" stroke-width="1.0"/>
<circle cx="259.6" cy="311.8" r="2.9" fill="#e6f1fa" stroke="#0072BD" stroke-width="1.0"/>
<circle cx="261.0" cy="309.3" r="2.9" fill="#e6f1fa" stroke="#0072BD" stroke-width="1.0"/>
<circle cx="262.4" cy="306.2" r="2.9" fill="#e6f1fa" stroke="#0072BD" stroke-width="1.0"/>
<circle cx="263.8" cy="302.8" r="2.9" fill="#e6f1fa" stroke="#0072BD" stroke-width="1.0"/>
<circle cx="266.6" cy="298.6" r="2.9" fill="#e6f1fa" stroke="#0072BD" stroke-width="1.0"/>
<circle cx="280.0" cy="285.1" r="2.9" fill="#e6f1fa" stroke="#0072BD" stroke-width="1.0"/>
<circle cx="283.0" cy="280.0" r="2.9" fill="#e6f1fa" stroke="#0072BD" stroke-width="1.0"/>
<circle cx="284.7" cy="274.6" r="2.9" fill="#e6f1fa" stroke="#0072BD" stroke-width="1.0"/>
<circle cx="289.5" cy="270.0" r="2.9" fill="#e6f1fa" stroke="#0072BD" stroke-width="1.0"/>
<circle cx="293.1" cy="263.3" r="2.9" fill="#e6f1fa" stroke="#0072BD" stroke-width="1.0"/>
<circle cx="297.1" cy="260.4" r="2.9" fill="#e6f1fa" stroke="#0072BD" stroke-width="1.0"/>
<circle cx="300.0" cy="258.0" r="2.9" fill="#e6f1fa" stroke="#0072BD" stroke-width="1.0"/>
<circle cx="302.9" cy="256.3" r="2.9" fill="#e6f1fa" stroke="#0072BD" stroke-width="1.0"/>
<circle cx="305.8" cy="254.6" r="2.9" fill="#e6f1fa" stroke="#0072BD" stroke-width="1.0"/>
<circle cx="308.6" cy="252.9" r="2.9" fill="#e6f1fa" stroke="#0072BD" stroke-width="1.0"/>
<circle cx="313.8" cy="251.1" r="2.9" fill="#e6f1fa" stroke="#0072BD" stroke-width="1.0"/>
<circle cx="323.0" cy="249.4" r="2.9" fill="#e6f1fa" stroke="#0072BD" stroke-width="1.0"/>
<polyline points="217.1,324.0 228.6,323.0 239.6,321.9 254.6,319.6 265.1,317.0 270.7,314.7 275.7,312.5 280.3,310.0 285.8,306.9 277.0,302.0 275.9,296.9 275.4,291.4 275.0,285.5 273.8,280.5 274.2,275.0 275.8,263.4 278.3,253.4 280.8,244.4 282.5,236.0 285.9,225.7 287.5,217.8 289.2,209.4 289.7,205.5 290.2,201.8 290.9,198.8 291.4,195.1" fill="none" stroke="#D95319" stroke-width="1.0"/>
<circle cx="217.1" cy="324.0" r="2.9" fill="#fdf0e6" stroke="#D95319" stroke-width="1.0"/>
<circle cx="228.6" cy="323.0" r="2.9" fill="#fdf0e6" stroke="#D95319" stroke-width="1.0"/>
<circle cx="239.6" cy="321.9" r="2.9" fill="#fdf0e6" stroke="#D95319" stroke-width="1.0"/>
<circle cx="254.6" cy="319.6" r="2.9" fill="#fdf0e6" stroke="#D95319" stroke-width="1.0"/>
<circle cx="265.1" cy="317.0" r="2.9" fill="#fdf0e6" stroke="#D95319" stroke-width="1.0"/>
<circle cx="270.7" cy="314.7" r="2.9" fill="#fdf0e6" stroke="#D95319" stroke-width="1.0"/>
<circle cx="275.7" cy="312.5" r="2.9" fill="#fdf0e6" stroke="#D95319" stroke-width="1.0"/>
<circle cx="280.3" cy="310.0" r="2.9" fill="#fdf0e6" stroke="#D95319" stroke-width="1.0"/>
<circle cx="285.8" cy="306.9" r="2.9" fill="#fdf0e6" stroke="#D95319" stroke-width="1.0"/>
<circle cx="277.0" cy="302.0" r="2.9" fill="#fdf0e6" stroke="#D95319" stroke-width="1.0"/>
<circle cx="275.9" cy="296.9" r="2.9" fill="#fdf0e6" stroke="#D95319" stroke-width="1.0"/>
<circle cx="275.4" cy="291.4" r="2.9" fill="#fdf0e6" stroke="#D95319" stroke-width="1.0"/>
<circle cx="275.0" cy="285.5" r="2.9" fill="#fdf0e6" stroke="#D95319" stroke-width="1.0"/>
<circle cx="273.8" cy="280.5" r="2.9" fill="#fdf0e6" stroke="#D95319" stroke-width="1.0"/>
<circle cx="274.2" cy="275.0" r="2.9" fill="#fdf0e6" stroke="#D95319" stroke-width="1.0"/>
<circle cx="275.8" cy="263.4" r="2.9" fill="#fdf0e6" stroke="#D95319" stroke-width="1.0"/>
<circle cx="278.3" cy="253.4" r="2.9" fill="#fdf0e6" stroke="#D95319" stroke-width="1.0"/>
<circle cx="280.8" cy="244.4" r="2.9" fill="#fdf0e6" stroke="#D95319" stroke-width="1.0"/>
<circle cx="282.5" cy="236.0" r="2.9" fill="#fdf0e6" stroke="#D95319" stroke-width="1.0"/>
<circle cx="285.9" cy="225.7" r="2.9" fill="#fdf0e6" stroke="#D95319" stroke-width="1.0"/>
<circle cx="287.5" cy="217.8" r="2.9" fill="#fdf0e6" stroke="#D95319" stroke-width="1.0"/>
<circle cx="289.2" cy="209.4" r="2.9" fill="#fdf0e6" stroke="#D95319" stroke-width="1.0"/>
<circle cx="289.7" cy="205.5" r="2.9" fill="#fdf0e6" stroke="#D95319" stroke-width="1.0"/>
<circle cx="290.2" cy="201.8" r="2.9" fill="#fdf0e6" stroke="#D95319" stroke-width="1.0"/>
<circle cx="290.9" cy="198.8" r="2.9" fill="#fdf0e6" stroke="#D95319" stroke-width="1.0"/>
<circle cx="291.4" cy="195.1" r="2.9" fill="#fdf0e6" stroke="#D95319" stroke-width="1.0"/>
<line x1="323.0" y1="249.4" x2="335.5" y2="249.4" stroke="#0072BD" stroke-width="1.2"/>
<polygon points="340.5,249.4 335.5,251.6 335.5,247.2" fill="#0072BD"/>
<line x1="291.4" y1="195.3" x2="304.5" y2="195.3" stroke="#D95319" stroke-width="1.2"/>
<polygon points="309.5,195.3 304.5,197.5 304.5,193.1" fill="#D95319"/>
<rect x="208.2" y="182.4" width="132.60000000000002" height="143.20000000000002" fill="none" stroke="#4a4a4a" stroke-width="1.1"/>
<line x1="208.2" y1="325.6" x2="208.2" y2="323.40000000000003" stroke="#4a4a4a" stroke-width="0.9"/>
<line x1="208.2" y1="182.4" x2="208.2" y2="184.6" stroke="#4a4a4a" stroke-width="0.9"/>
<line x1="241.3" y1="325.6" x2="241.3" y2="323.40000000000003" stroke="#4a4a4a" stroke-width="0.9"/>
<line x1="241.3" y1="182.4" x2="241.3" y2="184.6" stroke="#4a4a4a" stroke-width="0.9"/>
<line x1="274.5" y1="325.6" x2="274.5" y2="323.40000000000003" stroke="#4a4a4a" stroke-width="0.9"/>
<line x1="274.5" y1="182.4" x2="274.5" y2="184.6" stroke="#4a4a4a" stroke-width="0.9"/>
<line x1="307.6" y1="325.6" x2="307.6" y2="323.40000000000003" stroke="#4a4a4a" stroke-width="0.9"/>
<line x1="307.6" y1="182.4" x2="307.6" y2="184.6" stroke="#4a4a4a" stroke-width="0.9"/>
<line x1="340.8" y1="325.6" x2="340.8" y2="323.40000000000003" stroke="#4a4a4a" stroke-width="0.9"/>
<line x1="340.8" y1="182.4" x2="340.8" y2="184.6" stroke="#4a4a4a" stroke-width="0.9"/>
<line x1="208.2" y1="325.6" x2="210.39999999999998" y2="325.6" stroke="#4a4a4a" stroke-width="0.9"/>
<line x1="340.8" y1="325.6" x2="338.6" y2="325.6" stroke="#4a4a4a" stroke-width="0.9"/>
<line x1="208.2" y1="289.8" x2="210.39999999999998" y2="289.8" stroke="#4a4a4a" stroke-width="0.9"/>
<line x1="340.8" y1="289.8" x2="338.6" y2="289.8" stroke="#4a4a4a" stroke-width="0.9"/>
<line x1="208.2" y1="254.0" x2="210.39999999999998" y2="254.0" stroke="#4a4a4a" stroke-width="0.9"/>
<line x1="340.8" y1="254.0" x2="338.6" y2="254.0" stroke="#4a4a4a" stroke-width="0.9"/>
<line x1="208.2" y1="218.2" x2="210.39999999999998" y2="218.2" stroke="#4a4a4a" stroke-width="0.9"/>
<line x1="340.8" y1="218.2" x2="338.6" y2="218.2" stroke="#4a4a4a" stroke-width="0.9"/>
<line x1="208.2" y1="182.4" x2="210.39999999999998" y2="182.4" stroke="#4a4a4a" stroke-width="0.9"/>
<line x1="340.8" y1="182.4" x2="338.6" y2="182.4" stroke="#4a4a4a" stroke-width="0.9"/>
<text x="208.2" y="338.5" text-anchor="middle" font-size="10" fill="#3a3a3a">0</text>
<text x="241.3" y="338.5" text-anchor="middle" font-size="10" fill="#3a3a3a">10</text>
<text x="274.5" y="338.5" text-anchor="middle" font-size="10" fill="#3a3a3a">20</text>
<text x="307.6" y="338.5" text-anchor="middle" font-size="10" fill="#3a3a3a">30</text>
<text x="340.8" y="338.5" text-anchor="middle" font-size="10" fill="#3a3a3a">40</text>
<text x="205.7" y="330.0" text-anchor="end" font-size="10" fill="#3a3a3a">0.0</text>
<text x="205.7" y="294.2" text-anchor="end" font-size="10" fill="#3a3a3a">0.5</text>
<text x="205.7" y="258.4" text-anchor="end" font-size="10" fill="#3a3a3a">1.0</text>
<text x="205.7" y="222.6" text-anchor="end" font-size="10" fill="#3a3a3a">1.5</text>
<text x="205.7" y="186.8" text-anchor="end" font-size="10" fill="#3a3a3a">2.0</text>
<text x="274.5" y="351.4" text-anchor="middle" font-size="10" fill="#3a3a3a">Average wall superheat (°C)</text>
<text transform="translate(186.9,254.2) rotate(-90)" text-anchor="middle" font-size="10" fill="#3a3a3a">Average heat flux (MW/m<tspan font-size="6.8" dy="-3.6">2</tspan><tspan dy="3.6">)</tspan></text>
<text x="252" y="215.6" font-size="10.3" fill="#C96A3C" letter-spacing="-0.25">Pillar</text>
<text x="311.4" y="199.2" font-size="10.3" fill="#C96A3C" letter-spacing="-0.25">CHF</text>
<text x="315.6" y="242.3" font-size="10.3" fill="#2E86C1" letter-spacing="-0.25">CHF</text>
<text x="300.5" y="277" font-size="10.3" fill="#2E86C1" letter-spacing="-0.25">Plain</text>
<text x="181.6" y="188.8" font-size="12.8" font-weight="bold" fill="#000" stroke="#000" stroke-width="0.45">F</text>
<line x1="410.5" y1="182.4" x2="410.5" y2="325.6" stroke="#e4e4e4" stroke-width="0.8"/>
<line x1="444.4" y1="182.4" x2="444.4" y2="325.6" stroke="#e4e4e4" stroke-width="0.8"/>
<line x1="478.3" y1="182.4" x2="478.3" y2="325.6" stroke="#e4e4e4" stroke-width="0.8"/>
<line x1="376.6" y1="289.8" x2="512.2" y2="289.8" stroke="#e4e4e4" stroke-width="0.8"/>
<line x1="376.6" y1="254.0" x2="512.2" y2="254.0" stroke="#e4e4e4" stroke-width="0.8"/>
<line x1="376.6" y1="218.2" x2="512.2" y2="218.2" stroke="#e4e4e4" stroke-width="0.8"/>
<polyline points="387.5,316.0 399.6,317.1 410.6,317.7 424.5,316.2 425.0,310.4 427.6,307.0 429.2,304.5 430.4,302.0 431.8,299.5 433.4,297.0 435.0,294.5 436.8,288.6 443.5,284.4 449.4,278.5 452.8,274.3 455.3,271.0 459.6,266.5 464.9,264.8 468.9,263.8 472.3,264.6 478.2,265.4 484.0,267.3 494.7,270.0" fill="none" stroke="#0072BD" stroke-width="1.0"/>
<circle cx="387.5" cy="316.0" r="2.9" fill="#e6f1fa" stroke="#0072BD" stroke-width="1.0"/>
<circle cx="399.6" cy="317.1" r="2.9" fill="#e6f1fa" stroke="#0072BD" stroke-width="1.0"/>
<circle cx="410.6" cy="317.7" r="2.9" fill="#e6f1fa" stroke="#0072BD" stroke-width="1.0"/>
<circle cx="424.5" cy="316.2" r="2.9" fill="#e6f1fa" stroke="#0072BD" stroke-width="1.0"/>
<circle cx="425.0" cy="310.4" r="2.9" fill="#e6f1fa" stroke="#0072BD" stroke-width="1.0"/>
<circle cx="427.6" cy="307.0" r="2.9" fill="#e6f1fa" stroke="#0072BD" stroke-width="1.0"/>
<circle cx="429.2" cy="304.5" r="2.9" fill="#e6f1fa" stroke="#0072BD" stroke-width="1.0"/>
<circle cx="430.4" cy="302.0" r="2.9" fill="#e6f1fa" stroke="#0072BD" stroke-width="1.0"/>
<circle cx="431.8" cy="299.5" r="2.9" fill="#e6f1fa" stroke="#0072BD" stroke-width="1.0"/>
<circle cx="433.4" cy="297.0" r="2.9" fill="#e6f1fa" stroke="#0072BD" stroke-width="1.0"/>
<circle cx="435.0" cy="294.5" r="2.9" fill="#e6f1fa" stroke="#0072BD" stroke-width="1.0"/>
<circle cx="436.8" cy="288.6" r="2.9" fill="#e6f1fa" stroke="#0072BD" stroke-width="1.0"/>
<circle cx="443.5" cy="284.4" r="2.9" fill="#e6f1fa" stroke="#0072BD" stroke-width="1.0"/>
<circle cx="449.4" cy="278.5" r="2.9" fill="#e6f1fa" stroke="#0072BD" stroke-width="1.0"/>
<circle cx="452.8" cy="274.3" r="2.9" fill="#e6f1fa" stroke="#0072BD" stroke-width="1.0"/>
<circle cx="455.3" cy="271.0" r="2.9" fill="#e6f1fa" stroke="#0072BD" stroke-width="1.0"/>
<circle cx="459.6" cy="266.5" r="2.9" fill="#e6f1fa" stroke="#0072BD" stroke-width="1.0"/>
<circle cx="464.9" cy="264.8" r="2.9" fill="#e6f1fa" stroke="#0072BD" stroke-width="1.0"/>
<circle cx="468.9" cy="263.8" r="2.9" fill="#e6f1fa" stroke="#0072BD" stroke-width="1.0"/>
<circle cx="472.3" cy="264.6" r="2.9" fill="#e6f1fa" stroke="#0072BD" stroke-width="1.0"/>
<circle cx="478.2" cy="265.4" r="2.9" fill="#e6f1fa" stroke="#0072BD" stroke-width="1.0"/>
<circle cx="484.0" cy="267.3" r="2.9" fill="#e6f1fa" stroke="#0072BD" stroke-width="1.0"/>
<circle cx="494.7" cy="270.0" r="2.9" fill="#e6f1fa" stroke="#0072BD" stroke-width="1.0"/>
<polyline points="385.8,311.3 397.3,314.8 408.3,315.4 424.4,314.6 429.2,313.8 435.1,312.9 441.0,311.3 446.0,309.6 455.3,305.4 446.6,296.1 445.5,290.3 444.9,282.7 444.4,276.0 443.5,268.4 444.4,261.7 445.0,249.5 447.6,240.2 449.5,232.2 451.6,225.5 454.8,220.2 456.9,214.4 458.2,209.0 459.6,204.3 460.9,200.3 461.7,195.5" fill="none" stroke="#D95319" stroke-width="1.0"/>
<circle cx="385.8" cy="311.3" r="2.9" fill="#fdf0e6" stroke="#D95319" stroke-width="1.0"/>
<circle cx="397.3" cy="314.8" r="2.9" fill="#fdf0e6" stroke="#D95319" stroke-width="1.0"/>
<circle cx="408.3" cy="315.4" r="2.9" fill="#fdf0e6" stroke="#D95319" stroke-width="1.0"/>
<circle cx="424.4" cy="314.6" r="2.9" fill="#fdf0e6" stroke="#D95319" stroke-width="1.0"/>
<circle cx="429.2" cy="313.8" r="2.9" fill="#fdf0e6" stroke="#D95319" stroke-width="1.0"/>
<circle cx="435.1" cy="312.9" r="2.9" fill="#fdf0e6" stroke="#D95319" stroke-width="1.0"/>
<circle cx="441.0" cy="311.3" r="2.9" fill="#fdf0e6" stroke="#D95319" stroke-width="1.0"/>
<circle cx="446.0" cy="309.6" r="2.9" fill="#fdf0e6" stroke="#D95319" stroke-width="1.0"/>
<circle cx="455.3" cy="305.4" r="2.9" fill="#fdf0e6" stroke="#D95319" stroke-width="1.0"/>
<circle cx="446.6" cy="296.1" r="2.9" fill="#fdf0e6" stroke="#D95319" stroke-width="1.0"/>
<circle cx="445.5" cy="290.3" r="2.9" fill="#fdf0e6" stroke="#D95319" stroke-width="1.0"/>
<circle cx="444.9" cy="282.7" r="2.9" fill="#fdf0e6" stroke="#D95319" stroke-width="1.0"/>
<circle cx="444.4" cy="276.0" r="2.9" fill="#fdf0e6" stroke="#D95319" stroke-width="1.0"/>
<circle cx="443.5" cy="268.4" r="2.9" fill="#fdf0e6" stroke="#D95319" stroke-width="1.0"/>
<circle cx="444.4" cy="261.7" r="2.9" fill="#fdf0e6" stroke="#D95319" stroke-width="1.0"/>
<circle cx="445.0" cy="249.5" r="2.9" fill="#fdf0e6" stroke="#D95319" stroke-width="1.0"/>
<circle cx="447.6" cy="240.2" r="2.9" fill="#fdf0e6" stroke="#D95319" stroke-width="1.0"/>
<circle cx="449.5" cy="232.2" r="2.9" fill="#fdf0e6" stroke="#D95319" stroke-width="1.0"/>
<circle cx="451.6" cy="225.5" r="2.9" fill="#fdf0e6" stroke="#D95319" stroke-width="1.0"/>
<circle cx="454.8" cy="220.2" r="2.9" fill="#fdf0e6" stroke="#D95319" stroke-width="1.0"/>
<circle cx="456.9" cy="214.4" r="2.9" fill="#fdf0e6" stroke="#D95319" stroke-width="1.0"/>
<circle cx="458.2" cy="209.0" r="2.9" fill="#fdf0e6" stroke="#D95319" stroke-width="1.0"/>
<circle cx="459.6" cy="204.3" r="2.9" fill="#fdf0e6" stroke="#D95319" stroke-width="1.0"/>
<circle cx="460.9" cy="200.3" r="2.9" fill="#fdf0e6" stroke="#D95319" stroke-width="1.0"/>
<circle cx="461.7" cy="195.5" r="2.9" fill="#fdf0e6" stroke="#D95319" stroke-width="1.0"/>
<line x1="494.7" y1="270.0" x2="507.0" y2="270.0" stroke="#0072BD" stroke-width="1.2"/>
<polygon points="512.0,270.0 507.0,272.2 507.0,267.8" fill="#0072BD"/>
<line x1="461.7" y1="195.5" x2="473.5" y2="195.5" stroke="#D95319" stroke-width="1.2"/>
<polygon points="478.5,195.5 473.5,197.7 473.5,193.3" fill="#D95319"/>
<rect x="376.6" y="182.4" width="135.60000000000002" height="143.20000000000002" fill="none" stroke="#4a4a4a" stroke-width="1.1"/>
<line x1="376.6" y1="325.6" x2="376.6" y2="323.40000000000003" stroke="#4a4a4a" stroke-width="0.9"/>
<line x1="376.6" y1="182.4" x2="376.6" y2="184.6" stroke="#4a4a4a" stroke-width="0.9"/>
<line x1="410.5" y1="325.6" x2="410.5" y2="323.40000000000003" stroke="#4a4a4a" stroke-width="0.9"/>
<line x1="410.5" y1="182.4" x2="410.5" y2="184.6" stroke="#4a4a4a" stroke-width="0.9"/>
<line x1="444.4" y1="325.6" x2="444.4" y2="323.40000000000003" stroke="#4a4a4a" stroke-width="0.9"/>
<line x1="444.4" y1="182.4" x2="444.4" y2="184.6" stroke="#4a4a4a" stroke-width="0.9"/>
<line x1="478.3" y1="325.6" x2="478.3" y2="323.40000000000003" stroke="#4a4a4a" stroke-width="0.9"/>
<line x1="478.3" y1="182.4" x2="478.3" y2="184.6" stroke="#4a4a4a" stroke-width="0.9"/>
<line x1="512.2" y1="325.6" x2="512.2" y2="323.40000000000003" stroke="#4a4a4a" stroke-width="0.9"/>
<line x1="512.2" y1="182.4" x2="512.2" y2="184.6" stroke="#4a4a4a" stroke-width="0.9"/>
<line x1="376.6" y1="325.6" x2="378.8" y2="325.6" stroke="#4a4a4a" stroke-width="0.9"/>
<line x1="512.2" y1="325.6" x2="510.00000000000006" y2="325.6" stroke="#4a4a4a" stroke-width="0.9"/>
<line x1="376.6" y1="289.8" x2="378.8" y2="289.8" stroke="#4a4a4a" stroke-width="0.9"/>
<line x1="512.2" y1="289.8" x2="510.00000000000006" y2="289.8" stroke="#4a4a4a" stroke-width="0.9"/>
<line x1="376.6" y1="254.0" x2="378.8" y2="254.0" stroke="#4a4a4a" stroke-width="0.9"/>
<line x1="512.2" y1="254.0" x2="510.00000000000006" y2="254.0" stroke="#4a4a4a" stroke-width="0.9"/>
<line x1="376.6" y1="218.2" x2="378.8" y2="218.2" stroke="#4a4a4a" stroke-width="0.9"/>
<line x1="512.2" y1="218.2" x2="510.00000000000006" y2="218.2" stroke="#4a4a4a" stroke-width="0.9"/>
<line x1="376.6" y1="182.4" x2="378.8" y2="182.4" stroke="#4a4a4a" stroke-width="0.9"/>
<line x1="512.2" y1="182.4" x2="510.00000000000006" y2="182.4" stroke="#4a4a4a" stroke-width="0.9"/>
<text x="376.6" y="338.5" text-anchor="middle" font-size="10" fill="#3a3a3a">0</text>
<text x="410.5" y="338.5" text-anchor="middle" font-size="10" fill="#3a3a3a">10</text>
<text x="444.4" y="338.5" text-anchor="middle" font-size="10" fill="#3a3a3a">20</text>
<text x="478.3" y="338.5" text-anchor="middle" font-size="10" fill="#3a3a3a">30</text>
<text x="512.2" y="338.5" text-anchor="middle" font-size="10" fill="#3a3a3a">40</text>
<text x="374.1" y="330.0" text-anchor="end" font-size="10" fill="#3a3a3a">0</text>
<text x="374.1" y="294.2" text-anchor="end" font-size="10" fill="#3a3a3a">20</text>
<text x="374.1" y="258.4" text-anchor="end" font-size="10" fill="#3a3a3a">40</text>
<text x="374.1" y="222.6" text-anchor="end" font-size="10" fill="#3a3a3a">60</text>
<text x="374.1" y="186.8" text-anchor="end" font-size="10" fill="#3a3a3a">80</text>
<text x="444.4" y="351.4" text-anchor="middle" font-size="10" fill="#3a3a3a">Average wall superheat (°C)</text>
<text transform="translate(358.3,254.2) rotate(-90)" text-anchor="middle" font-size="10" fill="#3a3a3a">Overall HTC (kW/m<tspan font-size="6.8" dy="-3.6">2</tspan><tspan dy="3.6">/K)</tspan></text>
<text x="425.4" y="216.3" font-size="10.3" fill="#C96A3C" letter-spacing="-0.25">Pillar</text>
<text x="480.9" y="199.2" font-size="10.3" fill="#C96A3C" letter-spacing="-0.25">CHF</text>
<text x="490.4" y="264.8" font-size="10.2" fill="#2E86C1" letter-spacing="-0.3">CHF</text>
<text x="462.2" y="287" font-size="10.3" fill="#2E86C1" letter-spacing="-0.25">Plain</text>
<text x="350.6" y="188.8" font-size="12.8" font-weight="bold" fill="#000" stroke="#000" stroke-width="0.45">G</text>
<linearGradient id="tube" x1="0" y1="0" x2="1" y2="0"><stop offset="0" stop-color="#444"/><stop offset="0.05" stop-color="#777"/><stop offset="0.09" stop-color="#e4e4e4"/><stop offset="0.3" stop-color="#f6f6f6"/><stop offset="0.6" stop-color="#f6f6f6"/><stop offset="0.87" stop-color="#e8e8e8"/><stop offset="0.93" stop-color="#b0b0b0"/><stop offset="0.96" stop-color="#666"/><stop offset="1" stop-color="#444"/></linearGradient>
<linearGradient id="subl" x1="0" y1="0" x2="0" y2="1"><stop offset="0" stop-color="#ffffff"/><stop offset="0.3" stop-color="#a8a8a8"/><stop offset="0.55" stop-color="#4a4a4a"/><stop offset="1" stop-color="#1e1e1e"/></linearGradient>
<rect x="200.5" y="120.5" width="40" height="16.8" fill="url(#subl)"/>
<path d="M 210 137 C 210 130, 215 127, 221 127 C 227 127, 232 130, 232 137" fill="none" stroke="#3a3a3a" stroke-width="1" opacity="0.7"/>
<path d="M 209.2 6.2 L 232.6 6.2 L 232.6 115.5 C 232.6 122, 227.5 127.2, 220.9 127.2 C 214.3 127.2, 209.2 122, 209.2 115.5 Z" fill="url(#tube)" stroke="#666" stroke-width="0.6"/>
<path d="M 211 115 C 215 114, 227 114, 231 115" fill="none" stroke="#888" stroke-width="0.6" opacity="0.6"/>
<rect x="296" y="6.2" width="22.8" height="110" fill="url(#tube)" stroke="#666" stroke-width="0.6"/>
<rect x="300.6" y="6.2" width="12.2" height="10.8" fill="#dcdcdc"/>
<line x1="300.8" y1="6.2" x2="300.8" y2="17" stroke="#808080" stroke-width="1.6"/>
<line x1="312.8" y1="6.2" x2="312.8" y2="17.6" stroke="#555" stroke-width="1.4"/>
<path d="M 300 116 L 318 116 C 318 124, 322 130, 330 134 L 330 137.4 L 285.8 137.4 L 285.8 134 C 294 130, 300 124, 300 116 Z" fill="#141414"/>
<rect x="285.8" y="124" width="3.5" height="13.4" fill="#7a7a7a" opacity="0.8"/>
<rect x="326.5" y="124" width="3.5" height="13.4" fill="#7a7a7a" opacity="0.8"/>
<line x1="294.5" y1="133.8" x2="322.5" y2="133.8" stroke="#fff" stroke-width="1.2"/>
<polygon points="291.8,133.8 295.5,131.9 295.5,135.7" fill="#fff"/>
<polygon points="325.2,133.8 321.5,131.9 321.5,135.7" fill="#fff"/>
<text x="304.3" y="128.6" font-size="9.5" font-style="italic" fill="#fff">A<tspan font-size="6.5" dy="2">w</tspan></text>
<line x1="227" y1="6.9" x2="265" y2="6.9" stroke="#111" stroke-width="1.5"/>
<line x1="261.6" y1="17.1" x2="299.7" y2="17.1" stroke="#111" stroke-width="1.5"/>
<line x1="246.9" y1="22.4" x2="259.2" y2="14.3" stroke="#111" stroke-width="1.3"/>
<polygon points="263.4,11.5 260.5,16.2 258.0,12.3" fill="#111"/>
<text x="243.2" y="36.8" font-size="10" font-style="italic" fill="#333" stroke="#333" stroke-width="0.2">Δ</text>
<text x="243.4" y="49.6" font-size="10" font-style="italic" fill="#333" stroke="#333" stroke-width="0.2">H</text>
<text x="249.6" y="132.9" font-size="10.7" fill="#222" stroke="#222" stroke-width="0.2">1 mm</text>
<rect x="245.3" y="134.8" width="37" height="2.1" fill="#111"/>
<linearGradient id="drop" x1="0" y1="0" x2="0" y2="1"><stop offset="0" stop-color="#1a0d18"/><stop offset="1" stop-color="#0a0a0a"/></linearGradient>
<path d="M 194 168.6 C 204 163, 214 158, 228 155 C 245 151.8, 275 151.4, 295 155.5 C 308 159, 317 164, 326 168.6 Z" fill="url(#drop)" stroke="#6a1838" stroke-width="0.8"/>
<g filter="url(#b06)"><ellipse cx="262" cy="160.5" rx="22" ry="1.6" fill="#666" opacity="0.6"/><ellipse cx="258" cy="167.6" rx="1.6" ry="1" fill="#eee"/></g>
<line x1="193.4" y1="170.2" x2="332" y2="170.2" stroke="#f4c4cc" stroke-width="1.4"/>
<line x1="193.4" y1="168.7" x2="332" y2="168.7" stroke="#C8102A" stroke-width="1.9"/>
<line x1="193.4" y1="169" x2="232.6" y2="149.5" stroke="#E0102A" stroke-width="1.3"/>
<text x="222" y="166.3" font-size="10.4" fill="#dadada">30</text>
<text x="236.2" y="161.6" font-size="6" fill="#bbb">o</text>
<line x1="189.8" y1="4.6" x2="338" y2="4.6" stroke="#111" stroke-width="1.5" stroke-dasharray="5.1 4.4"/>
<line x1="190.6" y1="8.8" x2="190.6" y2="140.8" stroke="#111" stroke-width="1.5" stroke-dasharray="5.1 4.4"/>
<line x1="337.2" y1="8.0" x2="337.2" y2="140.8" stroke="#111" stroke-width="1.5" stroke-dasharray="5.1 4.4"/>
<line x1="336.2" y1="140.1" x2="190" y2="140.1" stroke="#111" stroke-width="1.5" stroke-dasharray="5.1 4.4"/>
<line x1="190.0" y1="145.8" x2="337.5" y2="145.8" stroke="#111" stroke-width="1.5" stroke-dasharray="5.1 4.4"/>
<line x1="190.3" y1="150.0" x2="190.3" y2="173.4" stroke="#111" stroke-width="1.5" stroke-dasharray="5.1 4.4"/>
<line x1="336.8" y1="149.6" x2="336.8" y2="173.4" stroke="#111" stroke-width="1.5" stroke-dasharray="5.1 4.4"/>
<line x1="336.8" y1="172.6" x2="190" y2="172.6" stroke="#111" stroke-width="1.5" stroke-dasharray="5.1 4.4"/>
<text x="194.2" y="17.8" font-size="12.8" font-weight="bold" fill="#000" stroke="#000" stroke-width="0.45">B</text>
<text x="192.3" y="157.4" font-size="12.8" font-weight="bold" fill="#000" stroke="#000" stroke-width="0.45">C</text>
<text x="7.6" y="18.7" font-size="12.8" font-weight="bold" fill="#000" stroke="#000" stroke-width="0.45">A</text>
<rect x="2" y="0" width="518" height="1.6" fill="#000"/>
<rect x="2" y="0" width="1.7" height="357" fill="#000"/>
<rect x="518" y="0" width="2" height="357" fill="#000"/>
<rect x="2" y="355" width="518" height="2" fill="#000"/>
</svg></body></html>
